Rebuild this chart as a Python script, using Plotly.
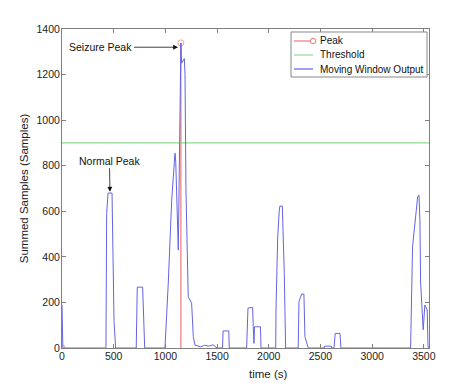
import plotly.graph_objects as go

# ---- data ----
time_s = [0, 8, 425, 432, 445, 484, 503, 519, 718, 728, 780, 800,
          996, 1028, 1061, 1093, 1100, 1125, 1150, 1156, 1183, 1190, 1199, 1212,
          1221, 1254, 1270, 1286, 1303, 1340, 1380, 1420, 1460, 1490, 1500,
          1553, 1558, 1613, 1618,
          1786, 1792, 1799, 1818, 1844, 1850, 1857, 1862, 1867, 1920, 1925,
          2067, 2070, 2086, 2101, 2108, 2131, 2150, 2163,
          2285, 2292, 2318, 2340, 2350, 2382,
          2537, 2540, 2605, 2608,
          2631, 2643, 2689, 2698,
          2995, 3000, 3065, 3070,
          3372, 3391, 3440, 3453, 3462, 3469, 3488, 3494, 3510, 3533, 3540, 3545]
window_output = [190, 0, 0, 590, 680, 680, 120, 0, 0, 267, 267, 0,
                 0, 285, 649, 855, 820, 430, 1339, 1250, 1270, 1200, 700, 300,
                 225, 197, 50, 13, 10, 5, 12, 8, 14, 6, 0,
                 0, 75, 75, 0,
                 0, 167, 175, 177, 177, 93, 20, 93, 93, 93, 0,
                 0, 170, 480, 600, 623, 623, 330, 0,
                 0, 203, 237, 237, 50, 0,
                 0, 8, 8, 0,
                 0, 64, 64, 0,
                 0, 3, 3, 0,
                 0, 444, 663, 671, 561, 285, 153, 80, 189, 167, 10, 0]

peak_time = [0, 1150]
peak_value = [0, 1339]

threshold_value = 900
x_limits = [0, 3550]
y_limits = [0, 1400]
x_ticks = [0, 500, 1000, 1500, 2000, 2500, 3000, 3500]
y_ticks = [0, 200, 400, 600, 800, 1000, 1200, 1400]

legend_labels = ["Peak", "Threshold", "Moving Window Output"]

FONT = "Liberation Sans, Arial, sans-serif"
BLUE = "rgb(100,100,228)"
GREEN = "rgb(140,222,140)"
RED = "rgb(238,120,120)"
legend_colors = [RED, GREEN, BLUE]

# stem representation of the peaks
stem_x, stem_y, stem_size = [], [], []
for t, v in zip(peak_time, peak_value):
    stem_x += [t, t, None]
    stem_y += [0, v, None]
    stem_size += [0, 6, 0]

fig = go.Figure()
fig.add_trace(go.Scatter(
    x=stem_x, y=stem_y, mode="lines+markers", name=legend_labels[0],
    line=dict(color=RED, width=1.2),
    marker=dict(symbol="circle-open", size=stem_size, color=RED, line=dict(width=1)),
))
fig.add_trace(go.Scatter(
    x=x_limits, y=[threshold_value, threshold_value], mode="lines", name=legend_labels[1],
    line=dict(color=GREEN, width=1.2),
))
fig.add_trace(go.Scatter(
    x=time_s, y=window_output, mode="lines", name=legend_labels[2],
    line=dict(color=BLUE, width=1),
))

axis_common = dict(
    showgrid=False, zeroline=False, showline=True, linecolor="#808080", linewidth=1,
    mirror="ticks", ticks="inside", ticklen=4, tickcolor="#808080",
    tickfont=dict(family=FONT, size=10.5, color="#222"),
)
fig.update_xaxes(range=x_limits, tickvals=x_ticks, ticklabelstandoff=-2, **axis_common)
fig.update_yaxes(range=y_limits, tickvals=y_ticks, ticklabelstandoff=-1,
                 title=dict(text="Summed Samples (Samples)", standoff=5,
                            font=dict(family=FONT, size=11.5, color="#222")),
                 **axis_common)

fig.add_annotation(x=1122, y=1320, ax=377, ay=1320, axref="x", ayref="y",
                   text="Seizure Peak", showarrow=True, arrowhead=2, arrowsize=1.2,
                   arrowwidth=0.8, arrowcolor="#111",
                   font=dict(family=FONT, size=10.5, color="#111"))
fig.add_annotation(x=464, y=686, ax=459, ay=822, axref="x", ayref="y",
                   text="Normal Peak", showarrow=True, arrowhead=2, arrowsize=1.2,
                   arrowwidth=0.8, arrowcolor="#111",
                   font=dict(family=FONT, size=10.5, color="#111"))
fig.add_annotation(x=(268 - 62) / 367, y=-0.056, xref="paper", yref="paper",
                   text="time (s)", showarrow=False, yanchor="top",
                   font=dict(family=FONT, size=11.5, color="#222"))

# ---- compact MATLAB-style legend box (paper coordinates) ----
fig.add_shape(type="rect", xref="paper", yref="paper",
              x0=0.624, x1=0.9946, y0=0.8495, y1=0.9906,
              line=dict(color="#888", width=1), fillcolor="white", layer="above")
entry_y = [0.9624, 0.9185, 0.8746]
for label, color, yy in zip(legend_labels, legend_colors, entry_y):
    fig.add_shape(type="line", xref="paper", yref="paper",
                  x0=0.632, x1=0.684, y0=yy, y1=yy,
                  line=dict(color=color, width=1.2), layer="above")
    fig.add_annotation(x=0.697, y=yy, xref="paper", yref="paper", text=label,
                       showarrow=False, xanchor="left", yanchor="middle",
                       font=dict(family=FONT, size=10, color="#111"))
fig.add_shape(type="circle", xref="paper", yref="paper",
              x0=0.684 - 0.0075, x1=0.684 + 0.0075,
              y0=entry_y[0] - 0.0085, y1=entry_y[0] + 0.0085,
              line=dict(color=RED, width=1), fillcolor="white", layer="above")

# the page body adds an 8px offset, so the figure is 8px smaller on the left/top
fig.update_layout(
    width=466, height=383,
    margin=dict(l=54, r=45, t=21, b=43),
    paper_bgcolor="white", plot_bgcolor="white",
    showlegend=False,
)

fig.write_html("out.html")
